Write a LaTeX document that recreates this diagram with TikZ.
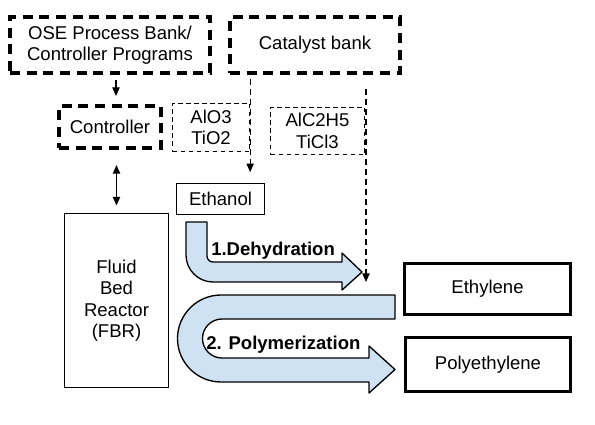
\documentclass[tikz,border=0pt]{standalone}
\usepackage{fontspec}
\setmainfont{Liberation Sans}
\usetikzlibrary{arrows.meta}
\definecolor{flowblue}{RGB}{207,226,243}
\newcommand{\labelsize}{\fontsize{13.9}{16.1}\selectfont}

\begin{document}
\begin{tikzpicture}[x=0.75pt, y=-0.75pt, font=\labelsize,
        bankbox/.style={draw, line width=3pt, dash pattern=on 7.5pt off 5pt, align=center, inner sep=0pt},
        catbox/.style={draw, line width=1pt, dash pattern=on 3.5pt off 2.5pt, align=center, inner sep=0pt},
        plainbox/.style={draw, line width=1pt, align=center, inner sep=0pt},
        productbox/.style={draw, line width=2.5pt, align=center, inner sep=0pt},
        arr/.style={line width=1pt, -{Triangle[length=6.5pt, width=5.5pt]}},
        darr/.style={arr, dash pattern=on 4.5pt off 3pt},
        flow/.style={draw, line width=1pt, fill=flowblue, line join=round}]
        \useasboundingbox (0,0) rectangle (595,424);

        % banks and controller
        \node[bankbox, minimum width=150pt, minimum height=42pt] (ose) at (110,45) {OSE Process Bank/\\Controller Programs};
        \node[bankbox, minimum width=127.5pt, minimum height=42pt] (cat) at (315,45) {Catalyst bank};
        \node[bankbox, minimum width=76.5pt, minimum height=31.5pt] (ctrl) at (110,127) {Controller};
        \node[catbox, minimum width=57.75pt, minimum height=36pt] (alo) at (211,127.5) {AlO3\\TiO2};
        \node[catbox, minimum width=70.5pt, minimum height=35.25pt] (alc) at (317.5,131) {AlC2H5\\TiCl3};

        % feed, reactor and products
        \node[plainbox, minimum width=66pt, minimum height=23.25pt] (eth) at (220.5,199) {Ethanol};
        \node[plainbox, minimum width=78pt, minimum height=130.5pt] (fbr) at (116.5,300.5) {Fluid\\Bed\\Reactor\\(FBR)};
        \node[productbox, minimum width=124.5pt, minimum height=38.25pt] (ethy) at (487.5,289) {Ethylene};
        \node[productbox, minimum width=123.75pt, minimum height=40.5pt] (poly) at (488,364.5) {Polyethylene};

        % process arrows
        \draw[flow] (186,222) -- (186,255) arc[start angle=180, end angle=90, radius=27]
            -- (342,282) -- (342,290) -- (362,272) -- (342,253) -- (342,262) -- (213,262)
            arc[start angle=90, end angle=180, radius=6] -- (207,222) -- cycle;
        \draw[flow] (395,295) -- (221,295) arc[start angle=270, end angle=90, radius=43.5]
            -- (369,382) -- (369,393) -- (395,369.5) -- (369,346) -- (369,358) -- (222,358)
            arc[start angle=90, end angle=270, radius=19.5] -- (395,319) -- cycle;
        \node[font=\labelsize\bfseries, anchor=base west, inner sep=0pt] (dehyd) at (211,255) {1.Dehydration};
        \node[font=\labelsize\bfseries, anchor=base west, inner sep=0pt] (polym) at (206,349) {2. Polymerization};

        % connectors
        \coordinate (drop) at (366,282);
        \draw[arr, shorten <=3.75pt, shorten >=6pt] ([xshift=4.5pt]ose.south) -- ([xshift=4.5pt]ctrl.north);
        \draw[arr, {Triangle[length=6.5pt, width=5.5pt]}-{Triangle[length=6.5pt, width=5.5pt]}, shorten <=11.25pt, shorten >=5.5pt] (ctrl.south -| fbr.north) -- (fbr.north);
        \draw[darr, shorten <=3pt, shorten >=8pt] (cat.south -| alo.east) -- (alo.east |- eth.north);
        \draw[darr, shorten <=10.5pt] (cat.south -| drop) -- (drop);
    \end{tikzpicture}
\end{document}
